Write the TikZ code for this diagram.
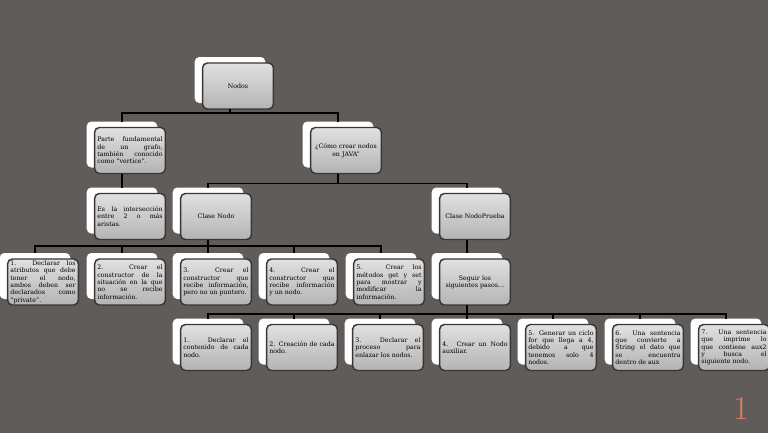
\documentclass[tikz,border=0pt]{standalone}
\usepackage{fontspec}
\newfontfamily\boxfont{DejaVu Serif}
\usetikzlibrary{shadows}
\definecolor{slidebg}{RGB}{96,92,90}
\definecolor{boxtop}{RGB}{224,224,224}
\definecolor{boxbot}{RGB}{180,180,180}
\definecolor{boxrim}{RGB}{55,55,55}
\definecolor{pagecol}{RGB}{232,122,92}
\begin{document}
\hyphenpenalty=10000
\exhyphenpenalty=10000
\tolerance=9999
\begin{tikzpicture}[x=0.75pt,y=-0.75pt,inner sep=0pt,outer sep=0pt,line width=0.8pt,
orgblock/.style={draw=boxrim,line width=1.1pt,rectangle,rounded corners=3.5pt,top color=boxtop,bottom color=boxbot,
  minimum width=53pt,minimum height=34.5pt,text width=49pt,inner xsep=2pt,inner ysep=0.5pt,align=justify,
  font=\boxfont\fontsize{4.7}{5.5}\selectfont,
  general shadow={fill=white,draw=none,shadow xshift=-6pt,shadow yshift=4.5pt}},
titleblock/.style={orgblock,align=center}]
\useasboundingbox (0,0) rectangle (768,433);
\fill[slidebg] (0,0) rectangle (768,433);
% top and second level
\draw (238,86) node[titleblock] (nodos) {Nodos};
\draw (130,150.5) node[orgblock] (parte) {Parte fundamental de un grafo, también conocido como “vertice”.};
\draw (346,150.5) node[titleblock] (como) {¿Cómo crear nodos\\en JAVA”};
% third level
\draw (130,216.5) node[orgblock] (inter) {Es la intersección entre 2 o más aristas.};
\draw (216,216.5) node[titleblock] (claseNodo) {Clase Nodo};
\draw (475,216.5) node[titleblock] (clasePrueba) {Clase NodoPrueba};
% Clase Nodo
\draw (43,282) node[orgblock] (atrib) {1. Declarar los atributos que debe tener el nodo, ambos deben ser declarados como “private”.};
\draw (130,282) node[orgblock] (consA) {2. Crear el constructor de la situación en la que\linebreak no se recibe información.};
\draw (216,282) node[orgblock] (consB) {3. Crear el constructor que recibe información, pero no un puntero.};
\draw (302,282) node[orgblock] (consC) {4. Crear el constructor que recibe información y un nodo.};
\draw (389,282) node[orgblock] (getset) {5. Crear los\linebreak métodos get y set\linebreak para mostrar y\linebreak modificar la información.};
% Clase NodoPrueba
\draw (475,282) node[titleblock] (seguir) {Seguir los\\siguientes pasos…};
\draw (216,347.5) node[orgblock] (pasoA) {1. Declarar el contenido de cada nodo.};
\draw (302,347.5) node[orgblock] (pasoB) {2. Creación de cada nodo.};
\draw (388,347.5) node[orgblock] (pasoC) {3. Declarar el proceso para enlazar los nodos.};
\draw (475,347.5) node[orgblock] (pasoD) {4. Crear un Nodo auxiliar.};
\draw (561,347.5) node[orgblock] (pasoE) {5. Generar un ciclo\linebreak for que llega a 4,\linebreak debido a que\linebreak tenemos solo 4 nodos.};
\draw (648,347.5) node[orgblock] (pasoF) {6. Una sentencia\linebreak que convierte a\linebreak String el dato que\linebreak se encuentra\linebreak dentro de aux};
\draw (734,347.5) node[orgblock] (pasoG) {7. Una sentencia\linebreak que imprime lo\linebreak que contiene aux2\linebreak y busca el\linebreak siguiente nodo.};
% connectors
\draw (nodos.south) ++(-8,0) -- ++(0,4) -| ([shift={(-8,-6)}]parte.north);
\draw (nodos.south) ++(-8,0) -- ++(0,4) -| ([shift={(-8,-6)}]como.north);
\draw (parte.south) ++(-8,0) -- ([shift={(-8,-6)}]inter.north);
\draw (como.south) ++(-8,0) -- ++(0,10) -| ([shift={(-8,-6)}]claseNodo.north);
\draw (como.south) ++(-8,0) -- ++(0,10) -| ([shift={(-8,-6)}]clasePrueba.north);
\draw (claseNodo.south) ++(-8,0) -- ++(0,6.5) -| ([shift={(-8,-6)}]atrib.north);
\draw (claseNodo.south) ++(-8,0) -- ++(0,6.5) -| ([shift={(-8,-6)}]consA.north);
\draw (claseNodo.south) ++(-8,0) -- ([shift={(-8,-6)}]consB.north);
\draw (claseNodo.south) ++(-8,0) -- ++(0,6.5) -| ([shift={(-8,-6)}]consC.north);
\draw (claseNodo.south) ++(-8,0) -- ++(0,6.5) -| ([shift={(-8,-6)}]getset.north);
\draw (clasePrueba.south) ++(-8,0) -- ([shift={(-8,-6)}]seguir.north);
\draw (seguir.south) ++(-8,0) -- ++(0,9) -| ([shift={(-8,-6)}]pasoA.north);
\draw (seguir.south) ++(-8,0) -- ++(0,9) -| ([shift={(-8,-6)}]pasoB.north);
\draw (seguir.south) ++(-8,0) -- ++(0,9) -| ([shift={(-8,-6)}]pasoC.north);
\draw (seguir.south) ++(-8,0) -- ([shift={(-8,-6)}]pasoD.north);
\draw (seguir.south) ++(-8,0) -- ++(0,9) -| ([shift={(-8,-6)}]pasoE.north);
\draw (seguir.south) ++(-8,0) -- ++(0,9) -| ([shift={(-8,-6)}]pasoF.north);
\draw (seguir.south) ++(-8,0) -- ++(0,9) -| ([shift={(-8,-6)}]pasoG.north);
\node[text=pagecol,font=\fontsize{25}{25}\selectfont] (slideno) at (741,408) {1};
\end{tikzpicture}
\end{document}
